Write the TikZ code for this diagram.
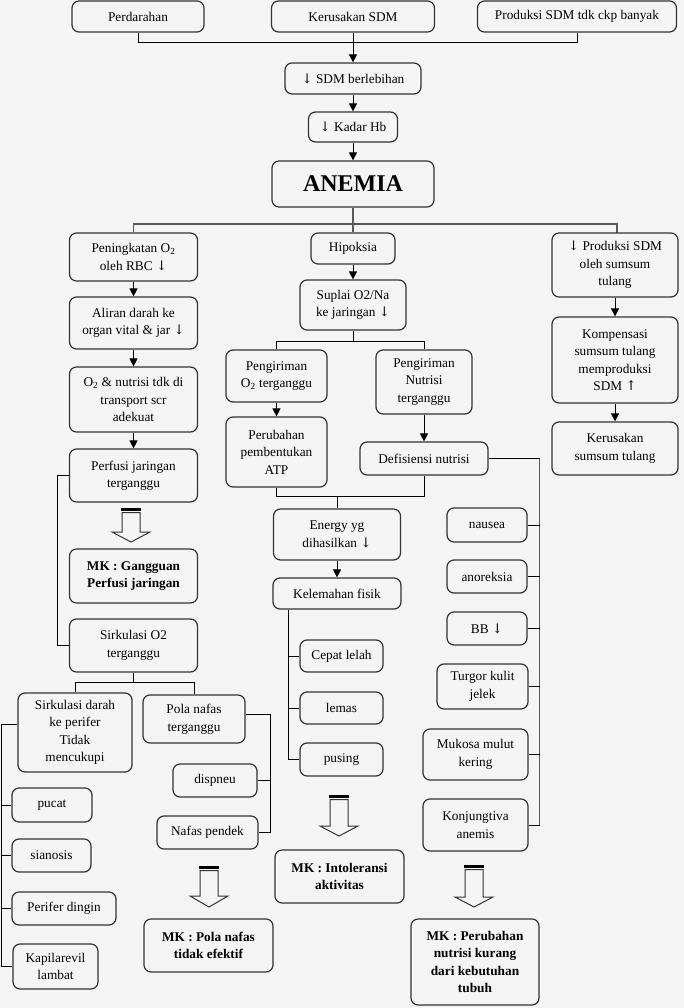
\documentclass[tikz,border=0pt]{standalone}
\usepackage{fontspec}
\setmainfont{Liberation Serif}
\newfontfamily\arrfont{DejaVu Serif}
\usetikzlibrary{arrows.meta}
\definecolor{bg}{RGB}{245,245,245}
\newcommand\fs{\fontsize{13.3}{17.5}\selectfont}
\newcommand\dnar{{\arrfont ↓}}
\newcommand\upar{{\arrfont ↑}}
% block arrow: #1 centre x, #2 top of bar, #3 y of head base, #4 y of tip
\newcommand\blockarr[4]{%
  \fill[black] (#1-10,#2) rectangle (#1+10,#2+2.6);
  \draw[line width=1pt, draw=black!80, fill=bg, line join=miter]
    (#1-9,#2+4.5) -- (#1-9,#3) -- (#1-19,#3) -- (#1,#4) -- (#1+19,#3)
    -- (#1+9,#3) -- (#1+9,#2+4.5) -- cycle;}
\begin{document}
\begin{tikzpicture}[x=1pt,y=-1pt,
  box/.style={draw=black!80, line width=1.2pt, rounded corners=7pt, fill=bg,
    align=center, inner sep=1pt, font=\fs},
  mk/.style={box, font=\fs\bfseries},
  conn/.style={line width=1pt, draw=black},
  heavy/.style={line width=1.6pt, draw=black!65},
  arr/.style={conn, -{Triangle[length=8pt,width=8pt]}}]
\useasboundingbox (0,0) rectangle (684,1008);
\fill[bg] (0,0) rectangle (684,1008);

% ---------- top ----------
\node[box, minimum width=132, minimum height=31] (perd) at (138,16.5) {Perdarahan};
\node[box, minimum width=163, minimum height=31] (kerus) at (353,16.5) {Kerusakan SDM};
\node[box, minimum width=199, minimum height=31] (prod) at (577,16.5) {Produksi SDM tdk ckp banyak};
\node[box, minimum width=136, minimum height=31] (sdm) at (353,78.5) {\dnar{} SDM berlebihan};
\node[box, minimum width=89, minimum height=30] (hb) at (353,127) {\dnar{} Kadar Hb};
\node[box, minimum width=162, minimum height=46, font=\fontsize{24}{28}\selectfont\bfseries] (anemia) at (353,184) {ANEMIA};

\draw[conn] (perd.south) -- ++(0,10) -| (prod.south);
\draw[arr] (kerus.south) -- (sdm.north);
\draw[arr] (sdm.south) -- (hb.north);
\draw[arr] (hb.south) -- (anemia.north);

% ---------- left column ----------
\node[box, minimum width=128, minimum height=48] (pen) at (133.5,257) {Peningkatan O\textsubscript{2}\\oleh RBC \dnar};
\node[box, minimum width=128, minimum height=52] (aliran) at (133.5,323) {Aliran darah ke\\organ vital \& jar \dnar};
\node[box, minimum width=128, minimum height=65] (o2n) at (133.5,399.5) {O\textsubscript{2} \& nutrisi tdk di\\transport scr\\adekuat};
\node[box, minimum width=128, minimum height=53] (perfusi) at (133.5,475.5) {Perfusi jaringan\\terganggu};
\node[mk, minimum width=128, minimum height=54] (mk1) at (133.5,576) {MK : Gangguan\\Perfusi jaringan};
\node[box, minimum width=128, minimum height=53] (sirk) at (133.5,645.5) {Sirkulasi O2\\terganggu};
\node[box, minimum width=114, minimum height=79] (sdarah) at (75,732.5) {Sirkulasi darah\\ke perifer\\Tidak\\mencukupi};
\node[box, minimum width=102, minimum height=48] (pola) at (194,719) {Pola nafas\\terganggu};
\node[box, minimum width=80, minimum height=34] (pucat) at (52,805) {pucat};
\node[box, minimum width=79, minimum height=33] (sianosis) at (51.5,855.5) {sianosis};
\node[box, minimum width=104, minimum height=33] (perifer) at (64,908.5) {Perifer dingin};
\node[box, minimum width=85, minimum height=45] (kapilar) at (55.5,966.5) {Kapilarevil\\lambat};
\node[box, minimum width=84, minimum height=33] (dispneu) at (215,780.5) {dispneu};
\node[box, minimum width=101, minimum height=33] (nafas) at (207.5,832.5) {Nafas pendek};
\node[mk, minimum width=129, minimum height=53] (mk2) at (208.5,945.5) {MK : Pola nafas\\tidak efektif};

\draw[arr] (pen.south) -- (aliran.north);
\draw[arr] (aliran.south) -- (o2n.north);
\draw[arr] (o2n.south) -- (perfusi.north);
\draw[conn] (perfusi.west) -- ++(-11,0) |- (sirk.west);
\blockarr{131}{508}{532}{542}
\draw[conn] (sirk.south) -- ++(0,10) coordinate (s1);
\draw[conn] (sdarah.north) |- (s1) -| (pola.north);
\coordinate (lx) at (1.5,0);
\draw[conn] ([yshift=8pt]sdarah.west) -| (lx |- kapilar.west) -- (kapilar.west);
\draw[conn] (lx |- pucat.west) -- (pucat.west);
\draw[conn] (lx |- sianosis.west) -- (sianosis.west);
\draw[conn] (lx |- perifer.west) -- (perifer.west);
\coordinate (rx) at (270,0);
\draw[conn] ([yshift=5pt]pola.east) -| (rx |- nafas.east) -- (nafas.east);
\draw[conn] (rx |- dispneu.east) -- (dispneu.east);
\blockarr{209}{866}{896}{907}

% ---------- middle column ----------
\node[box, minimum width=84, minimum height=31] (hip) at (353,248.5) {Hipoksia};
\node[box, minimum width=106, minimum height=50] (suplai) at (353,305) {Suplai O2/Na\\ke jaringan \dnar};
\node[box, minimum width=101, minimum height=52] (peng1) at (276.5,376) {Pengiriman\\O\textsubscript{2} terganggu};
\node[box, minimum width=96, minimum height=64] (peng2) at (424,382) {Pengiriman\\Nutrisi\\terganggu};
\node[box, minimum width=101, minimum height=70] (atp) at (276.5,452) {Perubahan\\pembentukan\\ATP};
\node[box, minimum width=128, minimum height=33] (def) at (424,458.5) {Defisiensi nutrisi};
\node[box, minimum width=127, minimum height=51] (energy) at (337,534.5) {Energy yg\\dihasilkan \dnar};
\node[box, minimum width=128, minimum height=31] (kel) at (337,593.5) {Kelemahan fisik};
\node[box, minimum width=83, minimum height=32] (cepat) at (341.5,656) {Cepat lelah};
\node[box, minimum width=83, minimum height=32] (lemas) at (341.5,708) {lemas};
\node[box, minimum width=83, minimum height=33] (pusing) at (341.5,759.5) {pusing};
\node[mk, minimum width=129, minimum height=53] (mk3) at (339.5,876.5) {MK : Intoleransi\\aktivitas};

\draw[heavy] (anemia.south) -- (hip.north);
\coordinate (a1) at (353,224);
\draw[heavy] (pen.north) -- (pen.north |- a1) -- (a1 -| 617,0) -- (617,233);
\draw[arr] (hip.south) -- (suplai.north);
\draw[conn] (suplai.south) -- ++(0,11) coordinate (s2);
\draw[conn] (peng1.north) |- (s2) -| (peng2.north);
\draw[arr] (peng1.south) -- (atp.north);
\draw[arr] (peng2.south) -- (def.north);
\draw[conn] (atp.south) -- ++(0,9) coordinate (j0) -| (def.south);
\draw[conn] (j0 -| energy.north) -- (energy.north);
\draw[arr] (energy.south) -- (kel.north);
\coordinate (kx) at (288,0);
\draw[conn] (kx |- kel.south) -- (kx |- pusing.west) -- (pusing.west);
\draw[conn] (kx |- cepat.west) -- (cepat.west);
\draw[conn] (kx |- lemas.west) -- (lemas.west);
\blockarr{339}{795}{826}{836}

% ---------- nutrition list ----------
\node[box, minimum width=80, minimum height=34] (nausea) at (487,525) {nausea};
\node[box, minimum width=80, minimum height=33] (anoreksia) at (487,576.5) {anoreksia};
\node[box, minimum width=80, minimum height=33] (bb) at (487,628.5) {BB \dnar};
\node[box, minimum width=91, minimum height=45] (turgor) at (482.5,686.5) {Turgor kulit\\jelek};
\node[box, minimum width=105, minimum height=51] (mukosa) at (475.5,754.5) {Mukosa mulut\\kering};
\node[box, minimum width=105, minimum height=52] (konj) at (475.5,825) {Konjungtiva\\anemis};
\node[mk, minimum width=128, minimum height=86] (mk4) at (475,962) {MK : Perubahan\\nutrisi kurang\\dari kebutuhan\\tubuh};

\coordinate (nx) at (539.5,0);
\draw[conn] (def.east) -- (nx |- def.east);
\draw[heavy] (nx |- def.east) -- (nx |- konj.east);
\draw[conn] (nx |- konj.east) -- (konj.east);
\draw[conn] (nx |- nausea.east) -- (nausea.east);
\draw[conn] (nx |- anoreksia.east) -- (anoreksia.east);
\draw[conn] (nx |- bb.east) -- (bb.east);
\draw[conn] (nx |- turgor.east) -- (turgor.east);
\draw[conn] (nx |- mukosa.east) -- (mukosa.east);
\blockarr{474}{865}{897}{907}

% ---------- right column ----------
\node[box, minimum width=126, minimum height=64] (prodsum) at (615,265) {\dnar{} Produksi SDM\\oleh sumsum\\tulang};
\node[box, minimum width=126, minimum height=86] (komp) at (615,360) {Kompensasi\\sumsum tulang\\memproduksi\\SDM \upar};
\node[box, minimum width=126, minimum height=53] (kerssum) at (615,448.5) {Kerusakan\\sumsum tulang};
\draw[arr] (prodsum.south) -- (komp.north);
\draw[arr] (komp.south) -- (kerssum.north);
\end{tikzpicture}
\end{document}
